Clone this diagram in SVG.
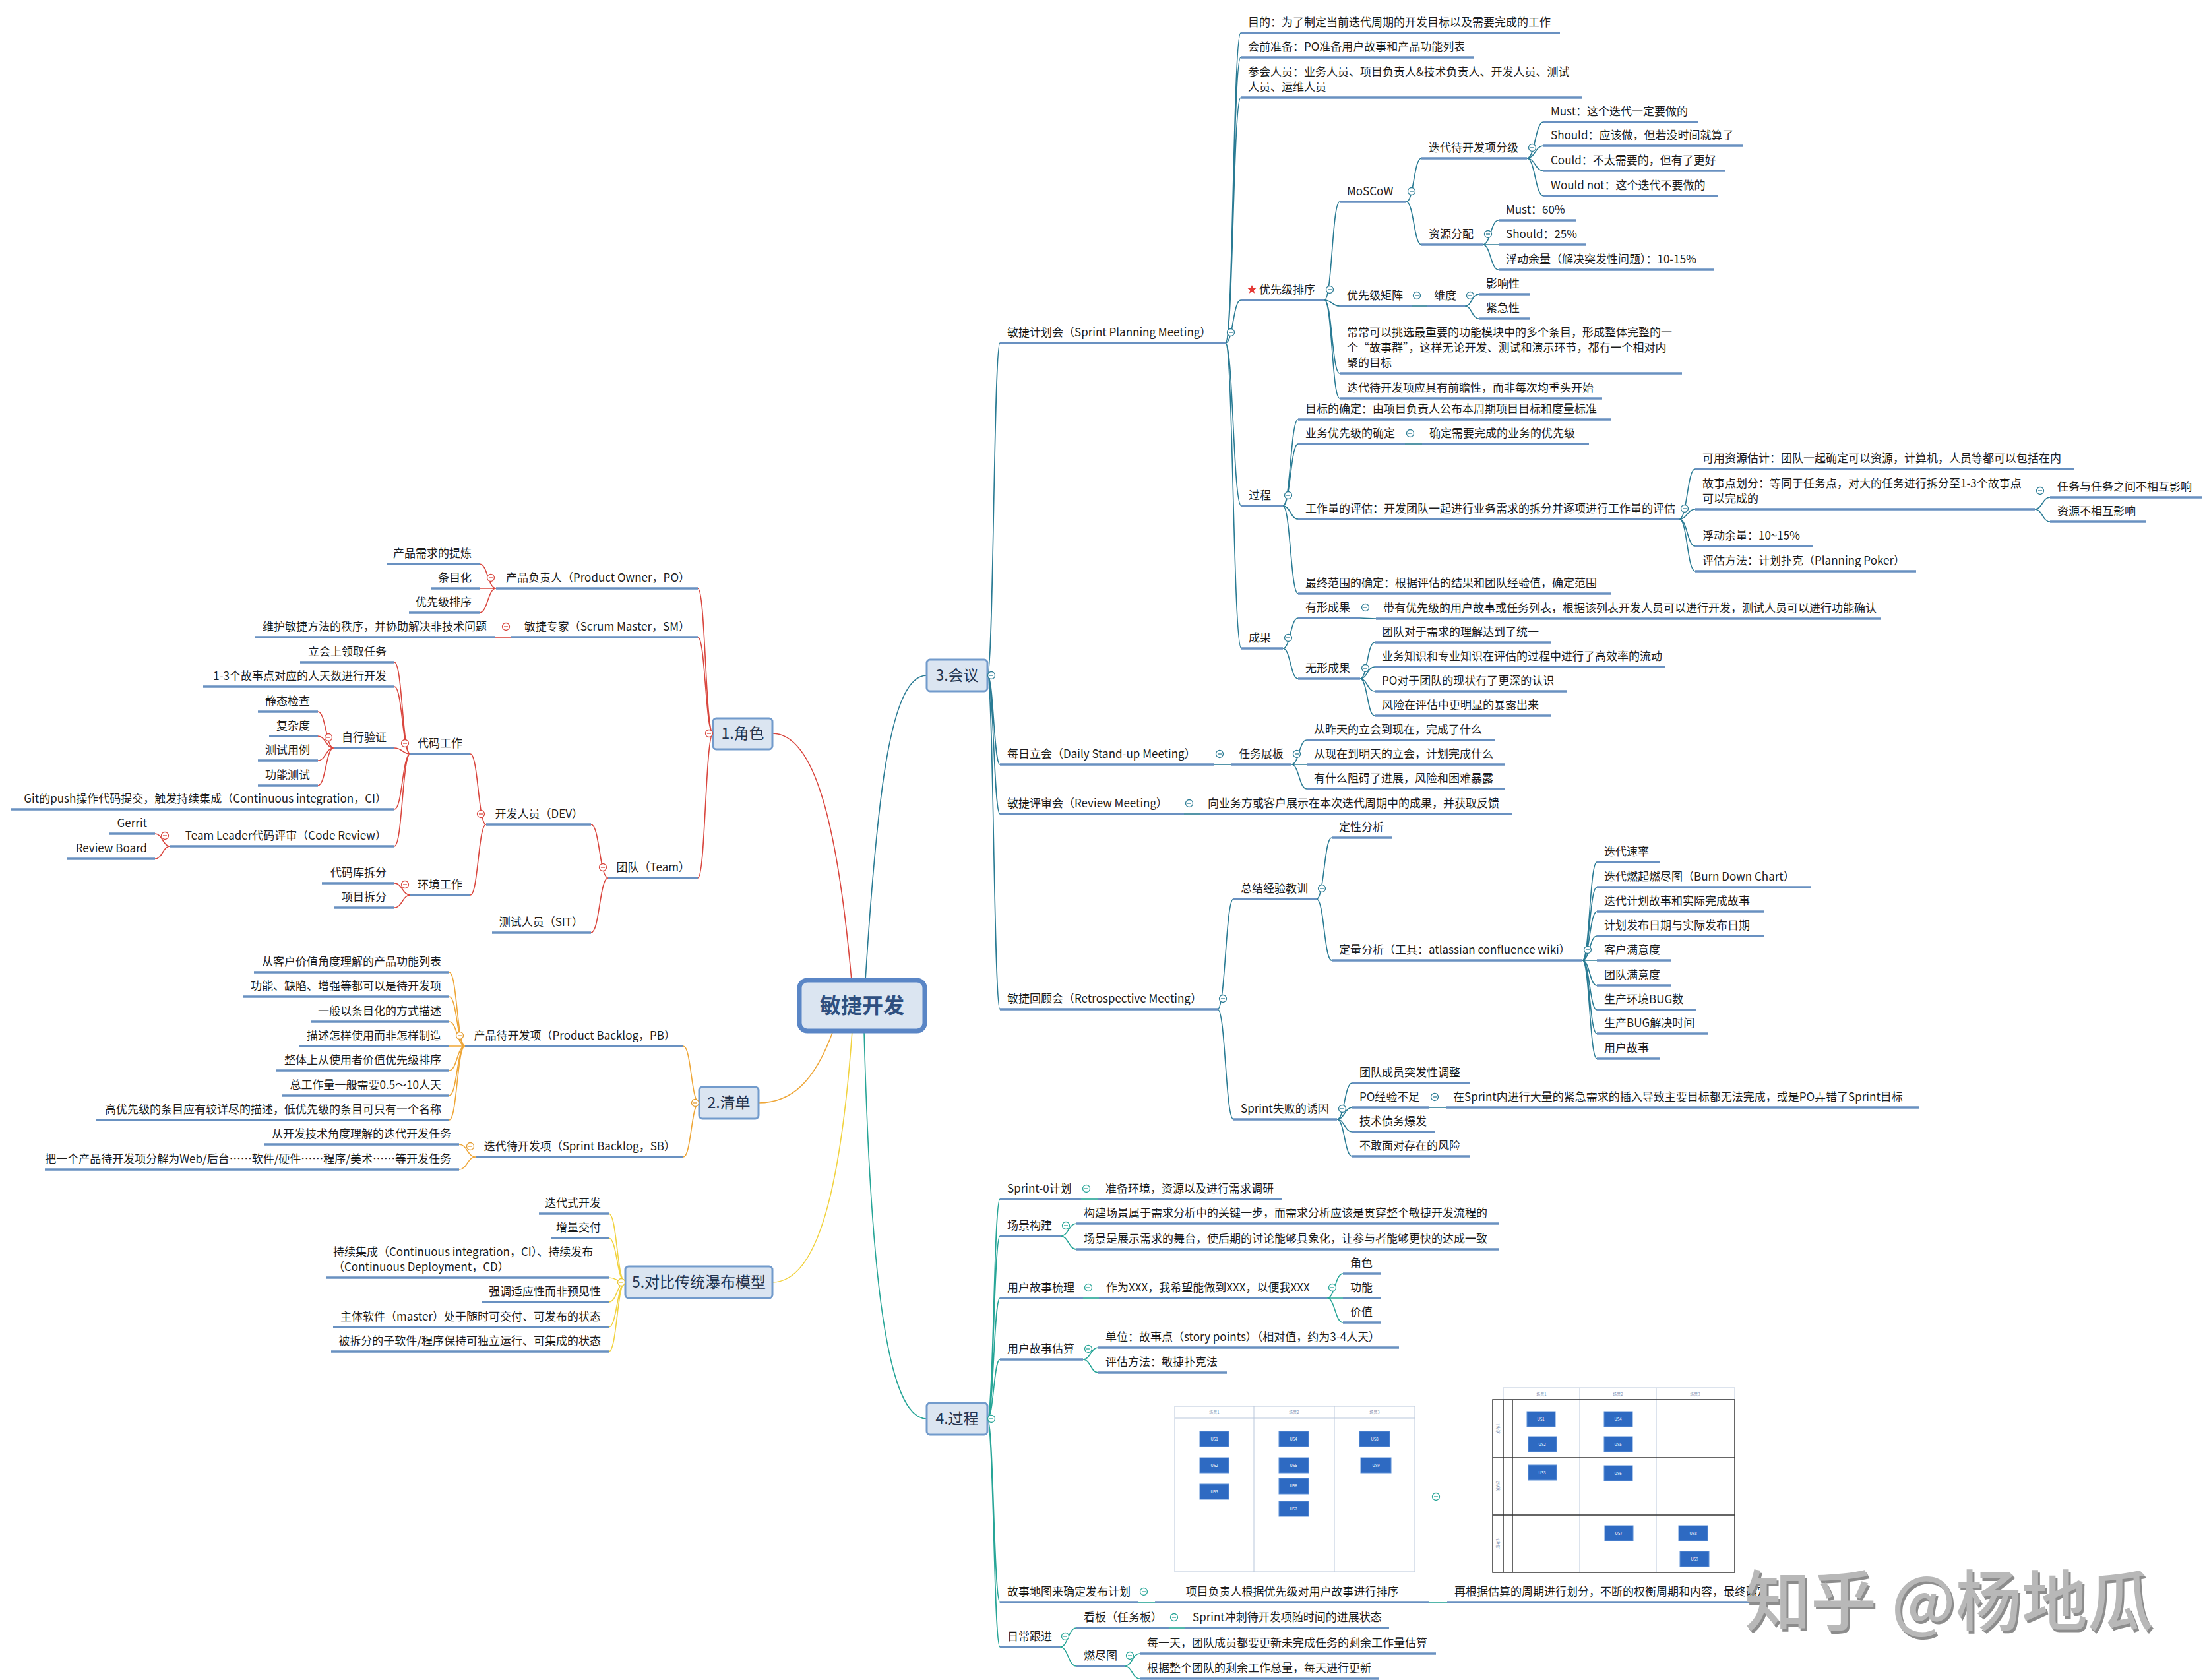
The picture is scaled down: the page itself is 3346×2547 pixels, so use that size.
<svg xmlns="http://www.w3.org/2000/svg" xmlns:xlink="http://www.w3.org/1999/xlink" width="3346" height="2547" viewBox="0 0 3346 2547">
<style>
.t{font-family:"Noto Sans CJK SC",sans-serif;font-size:17px;fill:#1c1c1c}
.e{text-anchor:end}
.u{stroke:#6991c1;stroke-width:3.5;fill:none}
.c{fill:none;stroke-width:1.6}
.cr{stroke:#d9473f}.co{stroke:#eea637}.cy{stroke:#f1d23f}.cm{stroke:#2a7b94}.cp{stroke:#27a597}
.gr{stroke:#d9473f;stroke-width:1.3}.go{stroke:#e39a2c;stroke-width:1.3}.gy{stroke:#e8c52f;stroke-width:1.3}.gm{stroke:#2a7b94;stroke-width:1.3}.gp{stroke:#27a597;stroke-width:1.3}
.mb{fill:#dbe5f1;stroke:#729bcc;stroke-width:3}
.mt{font-family:"Noto Sans CJK SC",sans-serif;font-size:23px;fill:#24344f;text-anchor:middle}
.us{fill:#2e6ac2;stroke:#5d8fd6;stroke-width:1}
.ul{font-family:"Noto Sans CJK SC",sans-serif;font-size:6px;fill:#ffffff;text-anchor:middle}
.hl{font-family:"Noto Sans CJK SC",sans-serif;font-size:6px;fill:#7d8fb0;text-anchor:middle}
.lg{stroke:#b9c7db;stroke-width:1;fill:none}
.dk{stroke:#333;stroke-width:1.5;fill:none}
</style>
<defs>
<symbol id="tg" overflow="visible"><circle r="5.5" fill="#ffffff"/><path d="M-3 0H3"/></symbol>
<filter id="sh" x="-5%" y="-5%" width="110%" height="120%"><feDropShadow dx="3" dy="4" stdDeviation="0.5" flood-color="#8c8c8c"/></filter>
</defs>
<rect width="3346" height="2547" fill="#ffffff"/>

<g id="connectors">
<!-- main -->
<path class="c cr" stroke-width="2" d="M1291 1486 C1270 1250 1235 1112 1171 1112"/>
<path class="c cm" stroke-width="2" d="M1312 1486 C1330 1200 1350 1024 1405 1024"/>
<path class="c co" stroke-width="2" d="M1263 1563 C1235 1640 1200 1672 1150 1672"/>
<path class="c cy" stroke-width="2" d="M1292 1563 C1275 1800 1240 1944 1171 1944"/>
<path class="c cp" stroke-width="2" d="M1310 1563 C1320 1940 1345 2151 1405 2151"/>
<!-- roles -->
<path class="c cr" d="M1081 1112 C1069.5 1112 1069.5 892 1058 892 M1081 1112 C1069.5 1112 1069.5 966 1058 966 M1081 1112 C1069.5 1112 1069.5 1331 1058 1331"/>
<path class="c cr" d="M752 892 C739.5 892 739.5 855 727 855 M752 892 L727 892 M752 892 C739.5 892 739.5 929 727 929"/>
<path class="c cr" d="M775 966 L750 966"/>
<path class="c cr" d="M922 1331 C909 1331 909 1250 896 1250 M922 1331 C909 1331 909 1414 896 1414"/>
<path class="c cr" d="M737 1250 C725 1250 725 1143 713 1143 M737 1250 C725 1250 725 1357 713 1357"/>
<path class="c cr" d="M622 1143 C610 1143 610 1004 598 1004 M622 1143 C610 1143 610 1041 598 1041 M622 1143 C610 1143 610 1134 598 1134 M622 1143 C610 1143 610 1227 598 1227 M622 1143 C610 1143 610 1283 598 1283"/>
<path class="c cr" d="M506 1134 C494 1134 494 1079 482 1079 M506 1134 C494 1134 494 1116 482 1116 M506 1134 C494 1134 494 1153 482 1153 M506 1134 C494 1134 494 1191 482 1191"/>
<path class="c cr" d="M258 1283 C246.5 1283 246.5 1264 235 1264 M258 1283 C246.5 1283 246.5 1302 235 1302"/>
<path class="c cr" d="M622 1357 C610 1357 610 1339 598 1339 M622 1357 C610 1357 610 1376 598 1376"/>
<!-- backlog -->
<path class="c co" d="M1060 1672 C1048 1672 1048 1586 1036 1586 M1060 1672 C1048 1672 1048 1754 1036 1754"/>
<path class="c co" d="M705 1586 C693 1586 693 1474 681 1474 M705 1586 C693 1586 693 1511 681 1511 M705 1586 C693 1586 693 1549 681 1549 M705 1586 L681 1586 M705 1586 C693 1586 693 1623 681 1623 M705 1586 C693 1586 693 1661 681 1661 M705 1586 C693 1586 693 1698 681 1698"/>
<path class="c co" d="M721 1754 C708.5 1754 708.5 1735 696 1735 M721 1754 C708.5 1754 708.5 1773 696 1773"/>
<!-- compare -->
<path class="c cy" d="M948 1944 C935.5 1944 935.5 1840 923 1840 M948 1944 C935.5 1944 935.5 1877 923 1877 M948 1944 C935.5 1944 935.5 1937 923 1937 M948 1944 C935.5 1944 935.5 1974 923 1974 M948 1944 C935.5 1944 935.5 2012 923 2012 M948 1944 C935.5 1944 935.5 2049 923 2049"/>
<!-- meetings -->
<path class="c cm" d="M1497 1024 C1506.5 1024 1506.5 520 1516 520 M1497 1024 C1506.5 1024 1506.5 1159 1516 1159 M1497 1024 C1506.5 1024 1506.5 1234 1516 1234 M1497 1024 C1506.5 1024 1506.5 1530 1516 1530"/>
<path class="c cm" d="M1858 520 C1869.5 520 1869.5 50 1881 50 M1858 520 C1869.5 520 1869.5 87 1881 87 M1858 520 C1869.5 520 1869.5 148 1881 148 M1858 520 C1869.5 520 1869.5 455 1881 455 M1858 520 C1869.5 520 1869.5 767 1882 767 M1858 520 C1869.5 520 1869.5 983 1882 983"/>
<path class="c cm" d="M2008 455 C2019.5 455 2019.5 306 2031 306 M2008 455 C2019.5 455 2019.5 464 2031 464 M2008 455 C2019.5 455 2019.5 566 2031 566 M2008 455 C2019.5 455 2019.5 604 2031 604"/>
<path class="c cm" d="M2132 306 C2143.5 306 2143.5 240 2155 240 M2132 306 C2143.5 306 2143.5 371 2155 371"/>
<path class="c cm" d="M2315 240 C2327.5 240 2327.5 185 2340 185 M2315 240 C2327.5 240 2327.5 221 2340 221 M2315 240 C2327.5 240 2327.5 259 2340 259 M2315 240 C2327.5 240 2327.5 297 2340 297"/>
<path class="c cm" d="M2248 371 C2260 371 2260 334 2272 334 M2248 371 L2272 371 M2248 371 C2260 371 2260 409 2272 409"/>
<path class="c cm" d="M2140 464 L2163 464"/>
<path class="c cm" d="M2221 464 C2231.5 464 2231.5 446 2242 446 M2221 464 C2231.5 464 2231.5 483 2242 483"/>
<path class="c cm" d="M1945 767 C1956.5 767 1956.5 636 1968 636 M1945 767 C1956.5 767 1956.5 673 1968 673 M1945 767 C1956.5 767 1956.5 787 1968 787 M1945 767 C1956.5 767 1956.5 900 1968 900"/>
<path class="c cm" d="M2130 673 L2156 673"/>
<path class="c cm" d="M2546 787 C2558 787 2558 711 2570 711 M2546 787 C2558 787 2558 772 2570 772 M2546 787 C2558 787 2558 828 2570 828 M2546 787 C2558 787 2558 866 2570 866"/>
<path class="c cm" d="M3085 772 C3096.5 772 3096.5 754 3108 754 M3085 772 C3096.5 772 3096.5 791 3108 791"/>
<path class="c cm" d="M1945 983 C1956.5 983 1956.5 937 1968 937 M1945 983 C1956.5 983 1956.5 1029 1968 1029"/>
<path class="c cm" d="M2062 937 L2086 938"/>
<path class="c cm" d="M2062 1029 C2073 1029 2073 974 2084 974 M2062 1029 C2073 1029 2073 1011 2084 1011 M2062 1029 C2073 1029 2073 1048 2084 1048 M2062 1029 C2073 1029 2073 1085 2084 1085"/>
<path class="c cm" d="M1841 1159 L1867 1159"/>
<path class="c cm" d="M1958 1159 C1969.5 1159 1969.5 1122 1981 1122 M1958 1159 L1981 1159 M1958 1159 C1969.5 1159 1969.5 1196 1981 1196"/>
<path class="c cm" d="M1795 1234 L1820 1234"/>
<path class="c cm" d="M1846 1530 C1858 1530 1858 1363 1870 1363 M1846 1530 C1858 1530 1858 1697 1870 1697"/>
<path class="c cm" d="M1996 1363 C2007.5 1363 2007.5 1270 2019 1270 M1996 1363 C2007.5 1363 2007.5 1456 2019 1456"/>
<path class="c cm" d="M2399 1456 C2410 1456 2410 1307 2421 1307 M2399 1456 C2410 1456 2410 1345 2421 1345 M2399 1456 C2410 1456 2410 1382 2421 1382 M2399 1456 C2410 1456 2410 1419 2421 1419 M2399 1456 L2421 1456 M2399 1456 C2410 1456 2410 1494 2421 1494 M2399 1456 C2410 1456 2410 1531 2421 1531 M2399 1456 C2410 1456 2410 1567 2421 1567 M2399 1456 C2410 1456 2410 1605 2421 1605"/>
<path class="c cm" d="M2027 1697 C2038.5 1697 2038.5 1642 2050 1642 M2027 1697 C2038.5 1697 2038.5 1679 2050 1679 M2027 1697 C2038.5 1697 2038.5 1716 2050 1716 M2027 1697 C2038.5 1697 2038.5 1753 2050 1753"/>
<path class="c cm" d="M2167 1679 L2192 1679"/>
<!-- process -->
<path class="c cp" d="M1497 2151 C1506.5 2151 1506.5 1818 1516 1818 M1497 2151 C1506.5 2151 1506.5 1874 1516 1874 M1497 2151 C1506.5 2151 1506.5 1968 1516 1968 M1497 2151 C1506.5 2151 1506.5 2061 1516 2061 M1497 2151 C1506.5 2151 1506.5 2429 1516 2429 M1497 2151 C1506.5 2151 1506.5 2497 1516 2497"/>
<path class="c cp" d="M1639 1818 L1665 1818"/>
<path class="c cp" d="M1608 1874 C1620 1874 1620 1855 1632 1855 M1608 1874 C1620 1874 1620 1894 1632 1894"/>
<path class="c cp" d="M1642 1968 L1666 1968"/>
<path class="c cp" d="M2012 1968 C2024 1968 2024 1931 2036 1931 M2012 1968 L2036 1968 M2012 1968 C2024 1968 2024 2005 2036 2005"/>
<path class="c cp" d="M1642 2061 C1653.5 2061 1653.5 2043 1665 2043 M1642 2061 C1653.5 2061 1653.5 2081 1665 2081"/>
<path class="c cp" d="M1726 2429 L1751 2429"/>
<path class="c cp" d="M2167 2429 L2194 2429"/>
<path class="c cp" d="M1607 2497 C1619.5 2497 1619.5 2468 1632 2468 M1607 2497 C1619.5 2497 1619.5 2526 1632 2526"/>
<path class="c cp" d="M1772 2468 L1797 2468"/>
<path class="c cp" d="M1705 2526 C1716.5 2526 1716.5 2507 1728 2507 M1705 2526 C1716.5 2526 1716.5 2545 1728 2545"/>
</g>

<!-- central -->
<g id="root">
<rect x="1212" y="1486" width="190" height="77" rx="12" fill="#dbe5f1" stroke="#5a86c6" stroke-width="7"/>
<text x="1307" y="1536" font-family="Noto Sans CJK SC,sans-serif" font-size="32" font-weight="bold" fill="#2f4f7f" text-anchor="middle">敏捷开发</text>
</g>

<!-- main branches -->
<g id="b1"><rect class="mb" x="1081" y="1089" width="90" height="47" rx="5"/><text class="mt" x="1126" y="1120">1.角色</text><use href="#tg" x="1075" y="1112" class="gr"/></g>
<g id="b2"><rect class="mb" x="1060" y="1648" width="90" height="48" rx="5"/><text class="mt" x="1105" y="1680">2.清单</text><use href="#tg" x="1054" y="1672" class="go"/></g>
<g id="b3"><rect class="mb" x="1405" y="1000" width="92" height="48" rx="5"/><text class="mt" x="1451" y="1032">3.会议</text><use href="#tg" x="1503" y="1024" class="gm"/></g>
<g id="b4"><rect class="mb" x="1405" y="2127" width="92" height="48" rx="5"/><text class="mt" x="1451" y="2159">4.过程</text><use href="#tg" x="1503" y="2151" class="gp"/></g>
<g id="b5"><rect class="mb" x="948" y="1920" width="223" height="48" rx="5"/><text class="mt" x="1059.5" y="1952">5.对比传统瀑布模型</text><use href="#tg" x="942" y="1944" class="gy"/></g>

<!-- roles nodes -->
<g id="r-po"><line class="u" x1="752" y1="892" x2="1058" y2="892"/><text class="t e" x="1046" y="882">产品负责人（Product Owner，PO）</text><use href="#tg" x="744" y="876" class="gr"/></g>
<g id="r-po1"><line class="u" x1="586" y1="855" x2="727" y2="855"/><text class="t e" x="715" y="845">产品需求的提炼</text></g>
<g id="r-po2"><line class="u" x1="654" y1="892" x2="727" y2="892"/><text class="t e" x="715" y="882">条目化</text></g>
<g id="r-po3"><line class="u" x1="620" y1="929" x2="727" y2="929"/><text class="t e" x="715" y="919">优先级排序</text></g>
<g id="r-sm"><line class="u" x1="775" y1="966" x2="1058" y2="966"/><text class="t e" x="1046" y="956">敏捷专家（Scrum Master，SM）</text><use href="#tg" x="767" y="950" class="gr"/></g>
<g id="r-sm1"><line class="u" x1="387" y1="966" x2="750" y2="966"/><text class="t e" x="738" y="956">维护敏捷方法的秩序，并协助解决非技术问题</text></g>
<g id="r-team"><line class="u" x1="922" y1="1331" x2="1058" y2="1331"/><text class="t e" x="1046" y="1321">团队（Team）</text><use href="#tg" x="914" y="1315" class="gr"/></g>
<g id="r-dev"><line class="u" x1="737" y1="1250" x2="896" y2="1250"/><text class="t e" x="884" y="1240">开发人员（DEV）</text><use href="#tg" x="729" y="1234" class="gr"/></g>
<g id="r-sit"><line class="u" x1="746" y1="1414" x2="896" y2="1414"/><text class="t e" x="884" y="1404">测试人员（SIT）</text></g>
<g id="r-code"><line class="u" x1="622" y1="1143" x2="713" y2="1143"/><text class="t e" x="701" y="1133">代码工作</text><use href="#tg" x="614" y="1127" class="gr"/></g>
<g id="r-c1"><line class="u" x1="455" y1="1004" x2="598" y2="1004"/><text class="t e" x="586" y="994">立会上领取任务</text></g>
<g id="r-c2"><line class="u" x1="308" y1="1041" x2="598" y2="1041"/><text class="t e" x="586" y="1031">1-3个故事点对应的人天数进行开发</text></g>
<g id="r-c3"><line class="u" x1="506" y1="1134" x2="598" y2="1134"/><text class="t e" x="586" y="1124">自行验证</text><use href="#tg" x="498" y="1118" class="gr"/></g>
<g id="r-c31"><line class="u" x1="391" y1="1079" x2="482" y2="1079"/><text class="t e" x="470" y="1069">静态检查</text></g>
<g id="r-c32"><line class="u" x1="408" y1="1116" x2="482" y2="1116"/><text class="t e" x="470" y="1106">复杂度</text></g>
<g id="r-c33"><line class="u" x1="391" y1="1153" x2="482" y2="1153"/><text class="t e" x="470" y="1143">测试用例</text></g>
<g id="r-c34"><line class="u" x1="391" y1="1191" x2="482" y2="1191"/><text class="t e" x="470" y="1181">功能测试</text></g>
<g id="r-c4"><line class="u" x1="17" y1="1227" x2="598" y2="1227"/><text class="t e" x="586" y="1217">Git的push操作代码提交，触发持续集成（Continuous integration，CI）</text></g>
<g id="r-c5"><line class="u" x1="258" y1="1283" x2="598" y2="1283"/><text class="t e" x="586" y="1273">Team Leader代码评审（Code Review）</text><use href="#tg" x="250" y="1267" class="gr"/></g>
<g id="r-c51"><line class="u" x1="165" y1="1264" x2="235" y2="1264"/><text class="t e" x="223" y="1254">Gerrit</text></g>
<g id="r-c52"><line class="u" x1="102" y1="1302" x2="235" y2="1302"/><text class="t e" x="223" y="1292">Review Board</text></g>
<g id="r-env"><line class="u" x1="622" y1="1357" x2="713" y2="1357"/><text class="t e" x="701" y="1347">环境工作</text><use href="#tg" x="614" y="1341" class="gr"/></g>
<g id="r-e1"><line class="u" x1="488" y1="1339" x2="598" y2="1339"/><text class="t e" x="586" y="1329">代码库拆分</text></g>
<g id="r-e2"><line class="u" x1="506" y1="1376" x2="598" y2="1376"/><text class="t e" x="586" y="1366">项目拆分</text></g>

<!-- backlog nodes -->
<g id="l-pb"><line class="u" x1="705" y1="1586" x2="1036" y2="1586"/><text class="t e" x="1024" y="1576">产品待开发项（Product Backlog，PB）</text><use href="#tg" x="697" y="1570" class="go"/></g>
<g id="l-pb1"><line class="u" x1="385" y1="1474" x2="681" y2="1474"/><text class="t e" x="669" y="1464">从客户价值角度理解的产品功能列表</text></g>
<g id="l-pb2"><line class="u" x1="368" y1="1511" x2="681" y2="1511"/><text class="t e" x="669" y="1501">功能、缺陷、增强等都可以是待开发项</text></g>
<g id="l-pb3"><line class="u" x1="471" y1="1549" x2="681" y2="1549"/><text class="t e" x="669" y="1539">一般以条目化的方式描述</text></g>
<g id="l-pb4"><line class="u" x1="454" y1="1586" x2="681" y2="1586"/><text class="t e" x="669" y="1576">描述怎样使用而非怎样制造</text></g>
<g id="l-pb5"><line class="u" x1="419" y1="1623" x2="681" y2="1623"/><text class="t e" x="669" y="1613">整体上从使用者价值优先级排序</text></g>
<g id="l-pb6"><line class="u" x1="427" y1="1661" x2="681" y2="1661"/><text class="t e" x="669" y="1651">总工作量一般需要0.5～10人天</text></g>
<g id="l-pb7"><line class="u" x1="146" y1="1698" x2="681" y2="1698"/><text class="t e" x="669" y="1688">高优先级的条目应有较详尽的描述，低优先级的条目可只有一个名称</text></g>
<g id="l-sb"><line class="u" x1="721" y1="1754" x2="1036" y2="1754"/><text class="t e" x="1024" y="1744">迭代待开发项（Sprint Backlog，SB）</text><use href="#tg" x="713" y="1738" class="go"/></g>
<g id="l-sb1"><line class="u" x1="400" y1="1735" x2="696" y2="1735"/><text class="t e" x="684" y="1725">从开发技术角度理解的迭代开发任务</text></g>
<g id="l-sb2"><line class="u" x1="68" y1="1773" x2="696" y2="1773"/><text class="t e" x="684" y="1763">把一个产品待开发项分解为Web/后台……软件/硬件……程序/美术……等开发任务</text></g>

<!-- compare nodes -->
<g id="w1"><line class="u" x1="817" y1="1840" x2="923" y2="1840"/><text class="t e" x="911" y="1830">迭代式开发</text></g>
<g id="w2"><line class="u" x1="835" y1="1877" x2="923" y2="1877"/><text class="t e" x="911" y="1867">增量交付</text></g>
<g id="w3"><line class="u" x1="495" y1="1937" x2="923" y2="1937"/><text class="t" x="505" y="1904">持续集成（Continuous integration，CI）、持续发布<tspan x="505" y="1927">（Continuous Deployment，CD）</tspan></text></g>
<g id="w4"><line class="u" x1="731" y1="1974" x2="923" y2="1974"/><text class="t e" x="911" y="1964">强调适应性而非预见性</text></g>
<g id="w5"><line class="u" x1="505" y1="2012" x2="923" y2="2012"/><text class="t e" x="911" y="2002">主体软件（master）处于随时可交付、可发布的状态</text></g>
<g id="w6"><line class="u" x1="502" y1="2049" x2="923" y2="2049"/><text class="t e" x="911" y="2039">被拆分的子软件/程序保持可独立运行、可集成的状态</text></g>

<!-- meetings nodes -->
<g id="m1"><line class="u" x1="1516" y1="520" x2="1858" y2="520"/><text class="t" x="1527" y="510">敏捷计划会（Sprint Planning Meeting）</text><use href="#tg" x="1866" y="504" class="gm"/></g>
<g id="m1a"><line class="u" x1="1881" y1="50" x2="2365" y2="50"/><text class="t" x="1892" y="40">目的：为了制定当前迭代周期的开发目标以及需要完成的工作</text></g>
<g id="m1b"><line class="u" x1="1881" y1="87" x2="2235" y2="87"/><text class="t" x="1892" y="77">会前准备：PO准备用户故事和产品功能列表</text></g>
<g id="m1c"><line class="u" x1="1881" y1="148" x2="2398" y2="148"/><text class="t" x="1892" y="115">参会人员：业务人员、项目负责人&amp;技术负责人、开发人员、测试<tspan x="1892" y="138">人员、运维人员</tspan></text></g>
<g id="m1d"><line class="u" x1="1881" y1="455" x2="2008" y2="455"/><polygon fill="#e53935" points="1898,432 1899.8,436.6 1904.7,436.8 1900.9,439.9 1902.1,444.7 1898,442 1893.9,444.7 1895.2,439.9 1891.3,436.8 1896.2,436.6"/><text class="t" x="1909" y="445">优先级排序</text><use href="#tg" x="2016" y="439" class="gm"/></g>
<g id="m1d1"><line class="u" x1="2031" y1="306" x2="2132" y2="306"/><text class="t" x="2042" y="296">MoSCoW</text><use href="#tg" x="2140" y="290" class="gm"/></g>
<g id="m1d11"><line class="u" x1="2155" y1="240" x2="2315" y2="240"/><text class="t" x="2166" y="230">迭代待开发项分级</text><use href="#tg" x="2323" y="224" class="gm"/></g>
<g id="m1d111"><line class="u" x1="2340" y1="185" x2="2575" y2="185"/><text class="t" x="2351" y="175">Must：这个迭代一定要做的</text></g>
<g id="m1d112"><line class="u" x1="2340" y1="221" x2="2642" y2="221"/><text class="t" x="2351" y="211">Should：应该做，但若没时间就算了</text></g>
<g id="m1d113"><line class="u" x1="2340" y1="259" x2="2615" y2="259"/><text class="t" x="2351" y="249">Could：不太需要的，但有了更好</text></g>
<g id="m1d114"><line class="u" x1="2340" y1="297" x2="2604" y2="297"/><text class="t" x="2351" y="287">Would not：这个迭代不要做的</text></g>
<g id="m1d12"><line class="u" x1="2155" y1="371" x2="2248" y2="371"/><text class="t" x="2166" y="361">资源分配</text><use href="#tg" x="2256" y="355" class="gm"/></g>
<g id="m1d121"><line class="u" x1="2272" y1="334" x2="2390" y2="334"/><text class="t" x="2283" y="324">Must：60%</text></g>
<g id="m1d122"><line class="u" x1="2272" y1="371" x2="2405" y2="371"/><text class="t" x="2283" y="361">Should：25%</text></g>
<g id="m1d123"><line class="u" x1="2272" y1="409" x2="2598" y2="409"/><text class="t" x="2283" y="399">浮动余量（解决突发性问题）：10-15%</text></g>
<g id="m1d2"><line class="u" x1="2031" y1="464" x2="2140" y2="464"/><text class="t" x="2042" y="454">优先级矩阵</text><use href="#tg" x="2148" y="448" class="gm"/></g>
<g id="m1d21"><line class="u" x1="2163" y1="464" x2="2221" y2="464"/><text class="t" x="2174" y="454">维度</text><use href="#tg" x="2229" y="448" class="gm"/></g>
<g id="m1d211"><line class="u" x1="2242" y1="446" x2="2319" y2="446"/><text class="t" x="2253" y="436">影响性</text></g>
<g id="m1d212"><line class="u" x1="2242" y1="483" x2="2319" y2="483"/><text class="t" x="2253" y="473">紧急性</text></g>
<g id="m1d3"><line class="u" x1="2031" y1="566" x2="2550" y2="566"/><text class="t" x="2042" y="510">常常可以挑选最重要的功能模块中的多个条目，形成整体完整的一<tspan x="2042" y="533">个“故事群”，这样无论开发、测试和演示环节，都有一个相对内</tspan><tspan x="2042" y="556">聚的目标</tspan></text></g>
<g id="m1d4"><line class="u" x1="2031" y1="604" x2="2429" y2="604"/><text class="t" x="2042" y="594">迭代待开发项应具有前瞻性，而非每次均重头开始</text></g>
<g id="m1e"><line class="u" x1="1882" y1="767" x2="1945" y2="767"/><text class="t" x="1893" y="757">过程</text><use href="#tg" x="1953" y="751" class="gm"/></g>
<g id="m1e1"><line class="u" x1="1968" y1="636" x2="2442" y2="636"/><text class="t" x="1979" y="626">目标的确定：由项目负责人公布本周期项目目标和度量标准</text></g>
<g id="m1e2"><line class="u" x1="1968" y1="673" x2="2130" y2="673"/><text class="t" x="1979" y="663">业务优先级的确定</text><use href="#tg" x="2138" y="657" class="gm"/></g>
<g id="m1e21"><line class="u" x1="2156" y1="673" x2="2409" y2="673"/><text class="t" x="2167" y="663">确定需要完成的业务的优先级</text></g>
<g id="m1e3"><line class="u" x1="1968" y1="787" x2="2546" y2="787"/><text class="t" x="1979" y="777">工作量的评估：开发团队一起进行业务需求的拆分并逐项进行工作量的评估</text><use href="#tg" x="2554" y="771" class="gm"/></g>
<g id="m1e31"><line class="u" x1="2570" y1="711" x2="3144" y2="711"/><text class="t" x="2581" y="701">可用资源估计：团队一起确定可以资源，计算机，人员等都可以包括在内</text></g>
<g id="m1e32"><line class="u" x1="2570" y1="772" x2="3085" y2="772"/><text class="t" x="2581" y="739">故事点划分：等同于任务点，对大的任务进行拆分至1-3个故事点<tspan x="2581" y="762">可以完成的</tspan></text><use href="#tg" x="3093" y="744" class="gm"/></g>
<g id="m1e321"><line class="u" x1="3108" y1="754" x2="3339" y2="754"/><text class="t" x="3119" y="744">任务与任务之间不相互影响</text></g>
<g id="m1e322"><line class="u" x1="3108" y1="791" x2="3253" y2="791"/><text class="t" x="3119" y="781">资源不相互影响</text></g>
<g id="m1e33"><line class="u" x1="2570" y1="828" x2="2749" y2="828"/><text class="t" x="2581" y="818">浮动余量：10~15%</text></g>
<g id="m1e34"><line class="u" x1="2570" y1="866" x2="2905" y2="866"/><text class="t" x="2581" y="856">评估方法：计划扑克（Planning Poker）</text></g>
<g id="m1e4"><line class="u" x1="1968" y1="900" x2="2442" y2="900"/><text class="t" x="1979" y="890">最终范围的确定：根据评估的结果和团队经验值，确定范围</text></g>
<g id="m1f"><line class="u" x1="1882" y1="983" x2="1945" y2="983"/><text class="t" x="1893" y="973">成果</text><use href="#tg" x="1953" y="967" class="gm"/></g>
<g id="m1f1"><line class="u" x1="1968" y1="937" x2="2062" y2="937"/><text class="t" x="1979" y="927">有形成果</text><use href="#tg" x="2070" y="921" class="gm"/></g>
<g id="m1f11"><line class="u" x1="2086" y1="938" x2="2852" y2="938"/><text class="t" x="2097" y="928">带有优先级的用户故事或任务列表，根据该列表开发人员可以进行开发，测试人员可以进行功能确认</text></g>
<g id="m1f2"><line class="u" x1="1968" y1="1029" x2="2062" y2="1029"/><text class="t" x="1979" y="1019">无形成果</text><use href="#tg" x="2070" y="1013" class="gm"/></g>
<g id="m1f21"><line class="u" x1="2084" y1="974" x2="2351" y2="974"/><text class="t" x="2095" y="964">团队对于需求的理解达到了统一</text></g>
<g id="m1f22"><line class="u" x1="2084" y1="1011" x2="2524" y2="1011"/><text class="t" x="2095" y="1001">业务知识和专业知识在评估的过程中进行了高效率的流动</text></g>
<g id="m1f23"><line class="u" x1="2084" y1="1048" x2="2375" y2="1048"/><text class="t" x="2095" y="1038">PO对于团队的现状有了更深的认识</text></g>
<g id="m1f24"><line class="u" x1="2084" y1="1085" x2="2351" y2="1085"/><text class="t" x="2095" y="1075">风险在评估中更明显的暴露出来</text></g>
<g id="m2"><line class="u" x1="1516" y1="1159" x2="1841" y2="1159"/><text class="t" x="1527" y="1149">每日立会（Daily Stand-up Meeting）</text><use href="#tg" x="1849" y="1143" class="gm"/></g>
<g id="m2a"><line class="u" x1="1867" y1="1159" x2="1958" y2="1159"/><text class="t" x="1878" y="1149">任务展板</text><use href="#tg" x="1966" y="1143" class="gm"/></g>
<g id="m2a1"><line class="u" x1="1981" y1="1122" x2="2266" y2="1122"/><text class="t" x="1992" y="1112">从昨天的立会到现在，完成了什么</text></g>
<g id="m2a2"><line class="u" x1="1981" y1="1159" x2="2282" y2="1159"/><text class="t" x="1992" y="1149">从现在到明天的立会，计划完成什么</text></g>
<g id="m2a3"><line class="u" x1="1981" y1="1196" x2="2282" y2="1196"/><text class="t" x="1992" y="1186">有什么阻碍了进展，风险和困难暴露</text></g>
<g id="m3"><line class="u" x1="1516" y1="1234" x2="1795" y2="1234"/><text class="t" x="1527" y="1224">敏捷评审会（Review Meeting）</text><use href="#tg" x="1803" y="1218" class="gm"/></g>
<g id="m3a"><line class="u" x1="1820" y1="1234" x2="2292" y2="1234"/><text class="t" x="1831" y="1224">向业务方或客户展示在本次迭代周期中的成果，并获取反馈</text></g>
<g id="m4"><line class="u" x1="1516" y1="1530" x2="1846" y2="1530"/><text class="t" x="1527" y="1520">敏捷回顾会（Retrospective Meeting）</text><use href="#tg" x="1854" y="1514" class="gm"/></g>
<g id="m4a"><line class="u" x1="1870" y1="1363" x2="1996" y2="1363"/><text class="t" x="1881" y="1353">总结经验教训</text><use href="#tg" x="2004" y="1347" class="gm"/></g>
<g id="m4a1"><line class="u" x1="2019" y1="1270" x2="2110" y2="1270"/><text class="t" x="2030" y="1260">定性分析</text></g>
<g id="m4a2"><line class="u" x1="2019" y1="1456" x2="2399" y2="1456"/><text class="t" x="2030" y="1446">定量分析（工具：atlassian confluence wiki）</text><use href="#tg" x="2407" y="1440" class="gm"/></g>
<g id="m4a21"><line class="u" x1="2421" y1="1307" x2="2516" y2="1307"/><text class="t" x="2432" y="1297">迭代速率</text></g>
<g id="m4a22"><line class="u" x1="2421" y1="1345" x2="2745" y2="1345"/><text class="t" x="2432" y="1335">迭代燃起燃尽图（Burn Down Chart）</text></g>
<g id="m4a23"><line class="u" x1="2421" y1="1382" x2="2674" y2="1382"/><text class="t" x="2432" y="1372">迭代计划故事和实际完成故事</text></g>
<g id="m4a24"><line class="u" x1="2421" y1="1419" x2="2674" y2="1419"/><text class="t" x="2432" y="1409">计划发布日期与实际发布日期</text></g>
<g id="m4a25"><line class="u" x1="2421" y1="1456" x2="2534" y2="1456"/><text class="t" x="2432" y="1446">客户满意度</text></g>
<g id="m4a26"><line class="u" x1="2421" y1="1494" x2="2534" y2="1494"/><text class="t" x="2432" y="1484">团队满意度</text></g>
<g id="m4a27"><line class="u" x1="2421" y1="1531" x2="2572" y2="1531"/><text class="t" x="2432" y="1521">生产环境BUG数</text></g>
<g id="m4a28"><line class="u" x1="2421" y1="1567" x2="2590" y2="1567"/><text class="t" x="2432" y="1557">生产BUG解决时间</text></g>
<g id="m4a29"><line class="u" x1="2421" y1="1605" x2="2516" y2="1605"/><text class="t" x="2432" y="1595">用户故事</text></g>
<g id="m4b"><line class="u" x1="1870" y1="1697" x2="2027" y2="1697"/><text class="t" x="1881" y="1687">Sprint失败的诱因</text><use href="#tg" x="2035" y="1681" class="gm"/></g>
<g id="m4b1"><line class="u" x1="2050" y1="1642" x2="2228" y2="1642"/><text class="t" x="2061" y="1632">团队成员突发性调整</text></g>
<g id="m4b2"><line class="u" x1="2050" y1="1679" x2="2167" y2="1679"/><text class="t" x="2061" y="1669">PO经验不足</text><use href="#tg" x="2175" y="1663" class="gm"/></g>
<g id="m4b21"><line class="u" x1="2192" y1="1679" x2="2910" y2="1679"/><text class="t" x="2203" y="1669">在Sprint内进行大量的紧急需求的插入导致主要目标都无法完成，或是PO弄错了Sprint目标</text></g>
<g id="m4b3"><line class="u" x1="2050" y1="1716" x2="2176" y2="1716"/><text class="t" x="2061" y="1706">技术债务爆发</text></g>
<g id="m4b4"><line class="u" x1="2050" y1="1753" x2="2228" y2="1753"/><text class="t" x="2061" y="1743">不敢面对存在的风险</text></g>

<!-- process nodes -->
<g id="p1"><line class="u" x1="1516" y1="1818" x2="1639" y2="1818"/><text class="t" x="1527" y="1808">Sprint-0计划</text><use href="#tg" x="1647" y="1802" class="gp"/></g>
<g id="p1a"><line class="u" x1="1665" y1="1818" x2="1943" y2="1818"/><text class="t" x="1676" y="1808">准备环境，资源以及进行需求调研</text></g>
<g id="p2"><line class="u" x1="1516" y1="1874" x2="1608" y2="1874"/><text class="t" x="1527" y="1864">场景构建</text><use href="#tg" x="1616" y="1858" class="gp"/></g>
<g id="p2a"><line class="u" x1="1632" y1="1855" x2="2272" y2="1855"/><text class="t" x="1643" y="1845">构建场景属于需求分析中的关键一步，而需求分析应该是贯穿整个敏捷开发流程的</text></g>
<g id="p2b"><line class="u" x1="1632" y1="1894" x2="2272" y2="1894"/><text class="t" x="1643" y="1884">场景是展示需求的舞台，使后期的讨论能够具象化，让参与者能够更快的达成一致</text></g>
<g id="p3"><line class="u" x1="1516" y1="1968" x2="1642" y2="1968"/><text class="t" x="1527" y="1958">用户故事梳理</text><use href="#tg" x="1650" y="1952" class="gp"/></g>
<g id="p3a"><line class="u" x1="1666" y1="1968" x2="2012" y2="1968"/><text class="t" x="1677" y="1958">作为XXX，我希望能做到XXX，以便我XXX</text><use href="#tg" x="2020" y="1952" class="gp"/></g>
<g id="p3a1"><line class="u" x1="2036" y1="1931" x2="2093" y2="1931"/><text class="t" x="2047" y="1921">角色</text></g>
<g id="p3a2"><line class="u" x1="2036" y1="1968" x2="2093" y2="1968"/><text class="t" x="2047" y="1958">功能</text></g>
<g id="p3a3"><line class="u" x1="2036" y1="2005" x2="2093" y2="2005"/><text class="t" x="2047" y="1995">价值</text></g>
<g id="p4"><line class="u" x1="1516" y1="2061" x2="1642" y2="2061"/><text class="t" x="1527" y="2051">用户故事估算</text><use href="#tg" x="1650" y="2045" class="gp"/></g>
<g id="p4a"><line class="u" x1="1665" y1="2043" x2="2121" y2="2043"/><text class="t" x="1676" y="2033">单位：故事点（story points）（相对值，约为3-4人天）</text></g>
<g id="p4b"><line class="u" x1="1665" y1="2081" x2="1860" y2="2081"/><text class="t" x="1676" y="2071">评估方法：敏捷扑克法</text></g>
<g id="p5"><line class="u" x1="1516" y1="2429" x2="1726" y2="2429"/><text class="t" x="1527" y="2419">故事地图来确定发布计划</text><use href="#tg" x="1734" y="2413" class="gp"/></g>
<g id="p5a">
<rect x="1781" y="2132" width="364" height="251" fill="#ffffff" stroke="#c3cfdf" stroke-width="1.2"/>
<line class="lg" x1="1781" y1="2150" x2="2145" y2="2150"/>
<line class="lg" x1="1901" y1="2132" x2="1901" y2="2383"/>
<line class="lg" x1="2023" y1="2132" x2="2023" y2="2383"/>
<text class="hl" x="1841" y="2143">场景1</text><text class="hl" x="1962" y="2143">场景2</text><text class="hl" x="2084" y="2143">场景3</text>
<rect class="us" x="1819" y="2170" width="44" height="23"/><text class="ul" x="1841" y="2184">US1</text>
<rect class="us" x="1819" y="2210" width="44" height="23"/><text class="ul" x="1841" y="2224">US2</text>
<rect class="us" x="1819" y="2250" width="44" height="23"/><text class="ul" x="1841" y="2264">US3</text>
<rect class="us" x="1939" y="2170" width="45" height="23"/><text class="ul" x="1961" y="2184">US4</text>
<rect class="us" x="1939" y="2210" width="45" height="23"/><text class="ul" x="1961" y="2224">US5</text>
<rect class="us" x="1939" y="2241" width="45" height="24"/><text class="ul" x="1961" y="2255">US6</text>
<rect class="us" x="1939" y="2276" width="45" height="23"/><text class="ul" x="1961" y="2290">US7</text>
<rect class="us" x="2061" y="2170" width="46" height="23"/><text class="ul" x="2084" y="2184">US8</text>
<rect class="us" x="2063" y="2210" width="46" height="23"/><text class="ul" x="2086" y="2224">US9</text>
<line class="u" x1="1751" y1="2429" x2="2167" y2="2429"/><text class="t" x="1959" y="2419" text-anchor="middle">项目负责人根据优先级对用户故事进行排序</text><use href="#tg" x="2177" y="2269" class="gp"/></g>
<g id="p5b">
<rect x="2279" y="2104" width="351" height="18" fill="#ffffff" stroke="#b9c7db" stroke-width="1"/>
<line class="lg" x1="2395" y1="2104" x2="2395" y2="2384"/>
<line class="lg" x1="2511" y1="2104" x2="2511" y2="2384"/>
<text class="hl" x="2337" y="2116">场景1</text><text class="hl" x="2453" y="2116">场景2</text><text class="hl" x="2570" y="2116">场景3</text>
<rect x="2263" y="2122" width="367" height="262" class="dk"/>
<line class="dk" x1="2263" y1="2210" x2="2630" y2="2210" stroke-width="2.5"/>
<line class="dk" x1="2263" y1="2297" x2="2630" y2="2297"/>
<line class="dk" x1="2279" y1="2122" x2="2279" y2="2384" stroke-width="1"/>
<line class="dk" x1="2293" y1="2122" x2="2293" y2="2384" stroke-width="1"/>
<text class="hl" transform="translate(2273 2166) rotate(-90)">发布1</text>
<text class="hl" transform="translate(2273 2253) rotate(-90)">发布2</text>
<text class="hl" transform="translate(2273 2340) rotate(-90)">发布3</text>
<rect class="us" x="2315" y="2140" width="43" height="23"/><text class="ul" x="2336" y="2154">US1</text>
<rect class="us" x="2432" y="2140" width="43" height="23"/><text class="ul" x="2453" y="2154">US4</text>
<rect class="us" x="2317" y="2178" width="43" height="23"/><text class="ul" x="2338" y="2192">US2</text>
<rect class="us" x="2432" y="2178" width="43" height="23"/><text class="ul" x="2453" y="2192">US5</text>
<rect class="us" x="2317" y="2221" width="43" height="23"/><text class="ul" x="2338" y="2235">US3</text>
<rect class="us" x="2432" y="2222" width="43" height="23"/><text class="ul" x="2453" y="2236">US6</text>
<rect class="us" x="2433" y="2313" width="43" height="23"/><text class="ul" x="2454" y="2327">US7</text>
<rect class="us" x="2545" y="2313" width="44" height="23"/><text class="ul" x="2567" y="2327">US8</text>
<rect class="us" x="2547" y="2352" width="44" height="23"/><text class="ul" x="2569" y="2366">US9</text>
<line class="u" x1="2194" y1="2429" x2="2687" y2="2429"/><text class="t" x="2205" y="2419">再根据估算的周期进行划分，不断的权衡周期和内容，最终确定</text></g>
<g id="p6"><line class="u" x1="1516" y1="2497" x2="1607" y2="2497"/><text class="t" x="1527" y="2487">日常跟进</text><use href="#tg" x="1615" y="2481" class="gp"/></g>
<g id="p6a"><line class="u" x1="1632" y1="2468" x2="1772" y2="2468"/><text class="t" x="1643" y="2458">看板（任务板）</text><use href="#tg" x="1780" y="2452" class="gp"/></g>
<g id="p6a1"><line class="u" x1="1797" y1="2468" x2="2106" y2="2468"/><text class="t" x="1808" y="2458">Sprint冲刺待开发项随时间的进展状态</text></g>
<g id="p6b"><line class="u" x1="1632" y1="2526" x2="1705" y2="2526"/><text class="t" x="1643" y="2516">燃尽图</text><use href="#tg" x="1713" y="2510" class="gp"/></g>
<g id="p6b1"><line class="u" x1="1728" y1="2507" x2="2177" y2="2507"/><text class="t" x="1739" y="2497">每一天，团队成员都要更新未完成任务的剩余工作量估算</text></g>
<g id="p6b2"><line class="u" x1="1728" y1="2545" x2="2091" y2="2545"/><text class="t" x="1739" y="2535">根据整个团队的剩余工作总量，每天进行更新</text></g>

<g id="watermark"><text x="2645" y="2464" font-family="Noto Sans CJK SC,sans-serif" font-size="100" font-weight="500" fill="#b8b8b8" filter="url(#sh)">知乎 @杨地瓜</text></g>
</svg>
